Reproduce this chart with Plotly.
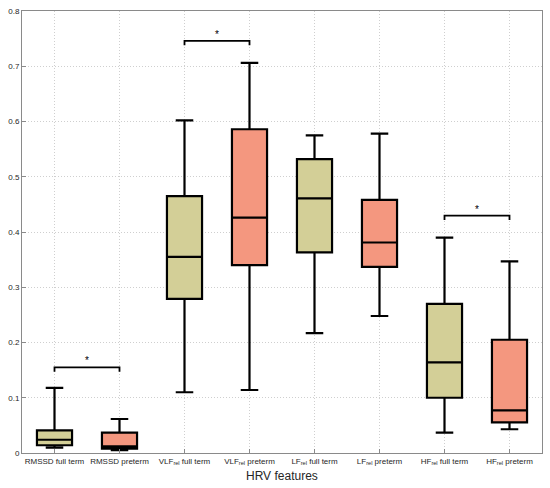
import plotly.graph_objects as go

# HRV feature categories (x positions 1..8)
tick_labels = [
    "RMSSD full term", "RMSSD preterm",
    "VLF<sub>rel</sub> full term", "VLF<sub>rel</sub> preterm",
    "LF<sub>rel</sub> full term", "LF<sub>rel</sub> preterm",
    "HF<sub>rel</sub> full term", "HF<sub>rel</sub> preterm",
]
full_pos = [1, 3, 5, 7]
pre_pos = [2, 4, 6, 8]

# full term box statistics
full_low = [0.0096, 0.110, 0.217, 0.037]
full_q1 = [0.014, 0.279, 0.363, 0.100]
full_med = [0.024, 0.355, 0.461, 0.164]
full_q3 = [0.041, 0.465, 0.532, 0.270]
full_high = [0.118, 0.602, 0.575, 0.390]

# preterm box statistics
pre_low = [0.005, 0.114, 0.248, 0.043]
pre_q1 = [0.008, 0.340, 0.337, 0.0555]
pre_med = [0.012, 0.426, 0.381, 0.077]
pre_q3 = [0.037, 0.586, 0.458, 0.205]
pre_high = [0.0615, 0.706, 0.578, 0.347]

# significance brackets
sig_left = [1, 3, 7]
sig_right = [2, 4, 8]
sig_height = [0.155, 0.746, 0.4295]
sig_drop = 0.008

fig = go.Figure()

fig.add_trace(go.Box(
    x=full_pos, q1=full_q1, median=full_med, q3=full_q3,
    lowerfence=full_low, upperfence=full_high,
    fillcolor="#d3cf97", line=dict(color="black", width=2.2),
    width=0.54, whiskerwidth=0.5, showlegend=False, hoverinfo="skip",
))
fig.add_trace(go.Box(
    x=pre_pos, q1=pre_q1, median=pre_med, q3=pre_q3,
    lowerfence=pre_low, upperfence=pre_high,
    fillcolor="#f4977f", line=dict(color="black", width=2.2),
    width=0.54, whiskerwidth=0.5, showlegend=False, hoverinfo="skip",
))

# brackets with asterisks
for a, b, h in zip(sig_left, sig_right, sig_height):
    fig.add_trace(go.Scatter(
        x=[a, a, b, b], y=[h - sig_drop, h, h, h - sig_drop],
        mode="lines", line=dict(color="black", width=1.8),
        showlegend=False, hoverinfo="skip",
    ))
    fig.add_annotation(
        x=(a + b) / 2, y=h, text="*", showarrow=False,
        yanchor="bottom", yshift=-1,
        font=dict(size=10, color="black", family="Liberation Sans"),
    )

fig.add_annotation(
    x=0.5, y=0, xref="paper", yref="paper", text="HRV features",
    showarrow=False, yanchor="middle", yshift=-23,
    font=dict(size=12, color="#262626"),
)

grid_style = dict(showgrid=True, gridcolor="#cfcfcf", griddash="1px,2px", gridwidth=1,
                  zeroline=False, showline=True, mirror=True, linecolor="#8a8a8a",
                  ticks="inside", ticklen=4, tickcolor="#8a8a8a",
                  tickfont=dict(size=8), automargin=False)

fig.update_layout(
    width=550, height=488,
    margin=dict(l=22, r=8, t=11, b=35),
    plot_bgcolor="white", paper_bgcolor="white",
    boxmode="overlay",
    font=dict(family="Liberation Sans, Arial", size=8, color="#262626"),
    xaxis=dict(range=[0.5, 8.5], tickvals=list(range(1, 9)), ticktext=tick_labels, **grid_style),
    yaxis=dict(range=[0, 0.8], dtick=0.1, tick0=0, **grid_style),
)

# drop the browser's default page margin so the figure sits at the corner
fig.write_html("out.html", config={"displayModeBar": False},
               post_script="document.body.style.margin = '0';")
